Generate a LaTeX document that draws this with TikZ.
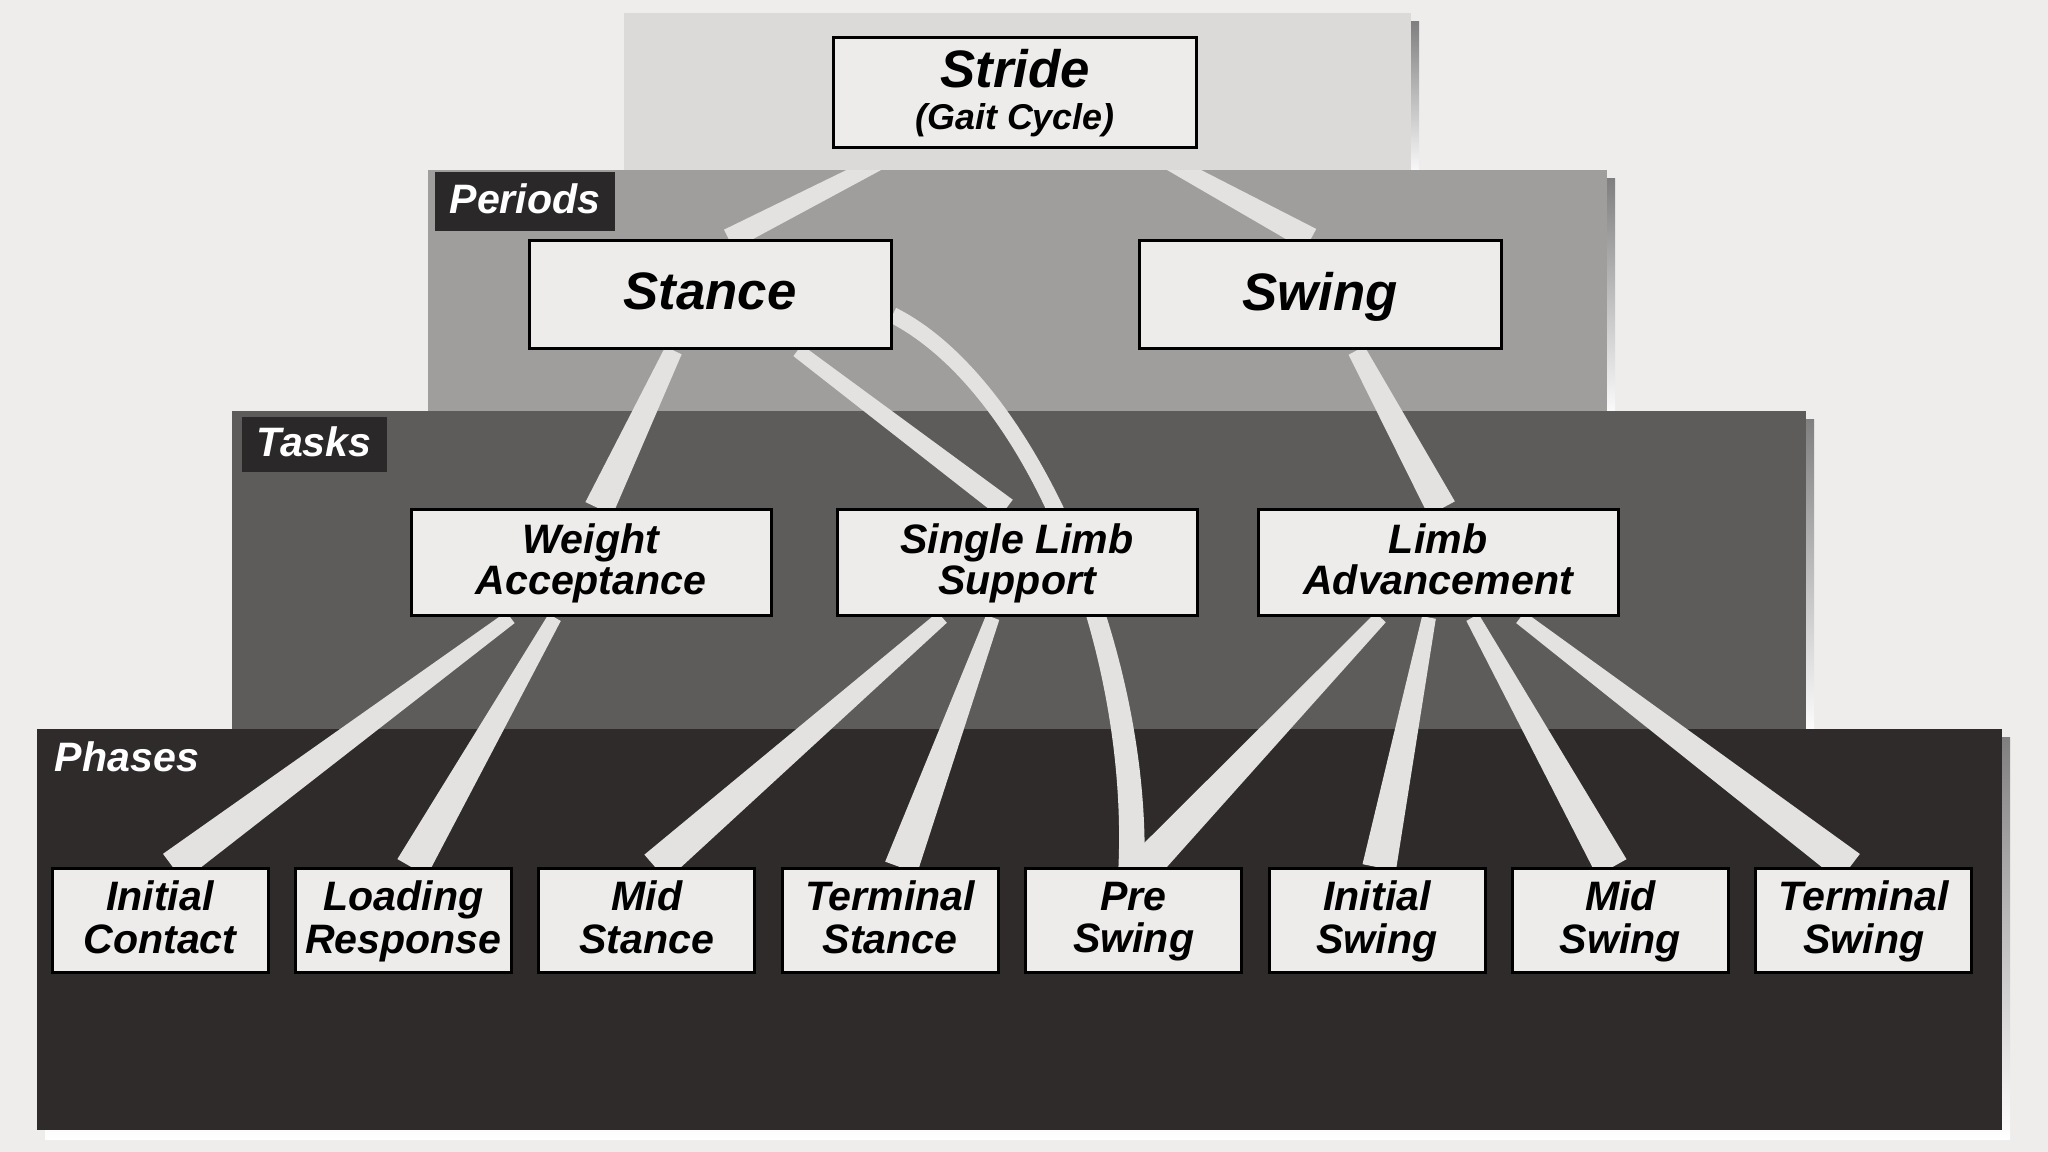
\documentclass[tikz,border=0pt]{standalone}
\usepackage{fontspec}
\setmainfont{Liberation Sans}
\usetikzlibrary{calc}
\definecolor{paper}{HTML}{EEEDEB}
\definecolor{strideband}{HTML}{DBDAD8}
\definecolor{periodband}{HTML}{9F9E9D}
\definecolor{taskband}{HTML}{5E5C5B}
\definecolor{phaseband}{HTML}{2E2B2A}
\definecolor{boxfill}{HTML}{EDECEA}
\definecolor{beamfill}{HTML}{E3E2E0}
\definecolor{tabfill}{HTML}{2A2828}
\definecolor{shade}{HTML}{161414}
\pgfdeclarelayer{back}
\pgfdeclarelayer{mid}
\pgfsetlayers{back,mid,main}
\tikzstyle{box}=[draw=black,line width=0.3mm,fill=boxfill,inner sep=0pt,align=center,text depth=0.22em,font=\bfseries\itshape]
\tikzstyle{period}=[box,minimum width=36.2mm,minimum height=10.8mm,font=\bfseries\itshape\fontsize{15}{15}\selectfont]
\tikzstyle{task}=[box,minimum width=36mm,minimum height=10.6mm,font=\bfseries\itshape\fontsize{11.7}{11.4}\selectfont]
\tikzstyle{phase}=[box,minimum width=21.6mm,minimum height=10.4mm,font=\bfseries\itshape\fontsize{11.7}{12}\selectfont]
\tikzstyle{tab}=[fill=tabfill,text=white,inner sep=0pt,text depth=0.22em,font=\bfseries\itshape\fontsize{11.7}{12}\selectfont]
\tikzstyle{beam}=[fill=beamfill]
% tapered beam: upper node, fraction on its bottom edge, lower node, fraction on its top edge, half widths
\newcommand{\beam}[6]{%
  \coordinate (bA) at ($(#1.south west)!#2!(#1.south east)$);
  \coordinate (bB) at ($(#3.north west)!#4!(#3.north east)$);
  \fill[beam] ($(bA)!#5!90:(bB)$) -- ($(bB)!#6!-90:(bA)$) -- ($(bB)!#6!90:(bA)$) -- ($(bA)!#5!-90:(bB)$) -- cycle;
}
\begin{document}
\begin{tikzpicture}[x=0.1mm,y=-0.1mm]
\useasboundingbox (0,0) rectangle (2048,1152);

% levels
\begin{pgfonlayer}{back}
\fill[paper] (0,0) rectangle (2048,1152);
\fill[shade] (632,22) rectangle (1419,179);
\fill[shade] (436,179) rectangle (1615,420);
\fill[periodband] (428,170) rectangle (1607,411);
\fill[shade] (240,420) rectangle (1814,738);
\fill[taskband] (232,411) rectangle (1806,729);
\fill[shade] (45,738) rectangle (2010,1139);
\fill[phaseband] (37,729) rectangle (2002,1130);
\end{pgfonlayer}

\node[tab,minimum width=18mm,minimum height=5.9mm] (ptab) at (525,202) {Periods};
\node[tab,minimum width=14.5mm,minimum height=5.5mm] (ttab) at (314,445) {Tasks};
\node[tab,fill=none] (phtab) at (127,760) {Phases};

% nodes
\node[box,minimum width=36.3mm,minimum height=11mm] (stride) at (1015,93)
  {{\fontsize{15}{9.7}\selectfont Stride}\\{\fontsize{10.2}{9.7}\selectfont (Gait Cycle)}};
\node[period] (stance) at (710,295) {Stance};
\node[period] (swing) at (1320,295) {Swing};
\node[task] (wa) at (591,563) {Weight\\Acceptance};
\node[task] (sls) at (1017,563) {Single Limb\\Support};
\node[task] (la) at (1438,563) {Limb\\Advancement};
\foreach \nm/\txt [count=\i from 0] in {ic/{Initial\\Contact},lr/{Loading\\Response},
    mst/{Mid\\Stance},tst/{Terminal\\Stance},psw/{Pre\\Swing},isw/{Initial\\Swing},
    msw/{Mid\\Swing},tsw/{Terminal\\Swing}}
  \node[phase] (\nm) at (160+243.4*\i,921) {\txt};

% connectors
\begin{pgfonlayer}{mid}
\beam{stride}{0.198}{stance}{0.552}{0.7mm}{1.1mm}
\beam{stride}{0.857}{swing}{0.474}{0.7mm}{1.2mm}
\beam{stance}{0.40}{wa}{0.522}{0.9mm}{1.5mm}
\beam{stance}{0.74}{sls}{0.47}{0.7mm}{1.1mm}
\beam{swing}{0.60}{la}{0.51}{0.9mm}{1.5mm}
\beam{wa}{0.278}{ic}{0.56}{0.7mm}{1.7mm}
\beam{wa}{0.40}{lr}{0.54}{0.7mm}{1.7mm}
\beam{sls}{0.294}{mst}{0.54}{0.7mm}{1.7mm}
\beam{sls}{0.433}{tst}{0.55}{0.7mm}{1.7mm}
\beam{la}{0.342}{psw}{0.546}{0.7mm}{1.7mm}
\beam{la}{0.475}{isw}{0.51}{0.7mm}{1.7mm}
\beam{la}{0.595}{msw}{0.46}{0.7mm}{1.7mm}
\beam{la}{0.727}{tsw}{0.435}{0.7mm}{1.7mm}
% stance to pre swing, behind single limb support
\coordinate (c0) at ($(stance.east)+(0,20)$);
\coordinate (c3) at ($(psw.north west)!0.49!(psw.north east)$);
\fill[beam] ($(c0)+(-3.6,7.1)$) .. controls ($(c0)+(134,78)$) and ($(c3)+(-3,-220)$) .. ($(c3)+(-13,0)$)
  -- ($(c3)+(13,0)$) .. controls ($(c3)+(19,-220)$) and ($(c0)+(142,62)$) .. ($(c0)+(3.6,-7.1)$) -- cycle;
\fill[strideband] (624,13) rectangle (1411,170);
\end{pgfonlayer}
\end{tikzpicture}
\end{document}
